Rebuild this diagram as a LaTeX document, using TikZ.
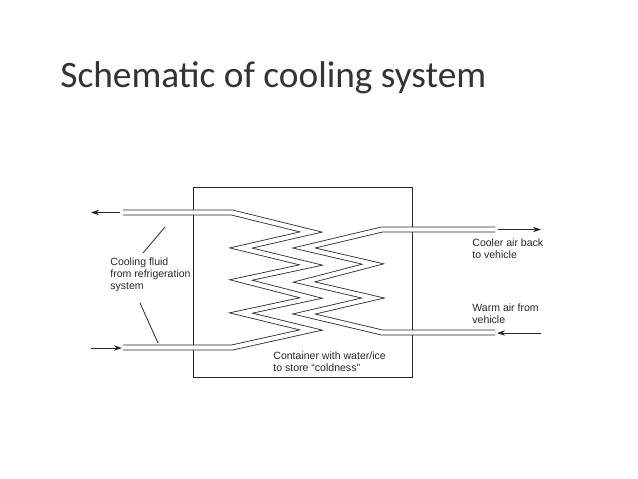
\documentclass[tikz,border=0pt]{standalone}
\usepackage{fontspec}
\setmainfont{Liberation Sans}
\newfontfamily\titlefont{Carlito}
\usetikzlibrary{arrows.meta}
\tikzset{every picture/.style={line width=0.6pt}}
\tikzset{
  pipe/.style={draw=black!85, double=white, double distance=3.2pt, line width=0.6pt, line join=miter},
  flow/.style={draw=black!85, -{Stealth[length=6pt,width=4pt]}},
  lbl/.style={anchor=north west, inner sep=0.75pt, font=\fontsize{7.9}{9.3}\selectfont, align=left, text=black!85}
}
\begin{document}
\begin{tikzpicture}[x=0.75pt,y=0.75pt,yscale=-1,xscale=1]
\useasboundingbox (0,0) rectangle (638,478);

% Title
\node [anchor=base west, inner sep=0pt, font=\titlefont\fontsize{28}{32}\selectfont, text=black!80] (title) at (60,87) {Schematic of cooling system};

% Container
\draw [black!85] (193,187) rectangle (412,377);

% Cooling fluid coil
\draw [pipe] (123,212.5) -- (232,212.5) -- (311,232) -- (241,248) -- (311,265) -- (241,280) -- (311,298) -- (241,313) -- (311,330) -- (232,347.5) -- (123,347.5);
% Air coil
\draw [pipe] (495,229.5) -- (382,229.5) -- (304,248) -- (373,264) -- (304,282) -- (373,298) -- (304,314) -- (382,332.5) -- (495,332.5);

% Flow ends
\coordinate (fOut) at (120,212.5);
\coordinate (fOutEnd) at (91,212.5);
\coordinate (fIn) at (91,348);
\coordinate (fInEnd) at (122,348);
\coordinate (aOut) at (498,229.5);
\coordinate (aOutEnd) at (541,229.5);
\coordinate (aIn) at (541,333);
\coordinate (aInEnd) at (497,333);
\draw [flow] (fOut) -- (fOutEnd);
\draw [flow] (fIn) -- (fInEnd);
\draw [flow] (aOut) -- (aOutEnd);
\draw [flow] (aIn) -- (aInEnd);

% Text Node
\node [lbl] (fluid) at (109,256) {Cooling fluid\\from refrigeration\\system};
% Text Node
\node [lbl] (cooler) at (471,237) {Cooler air back\\to vehicle};
% Text Node
\node [lbl] (warm) at (471,302) {Warm air from\\vehicle};
% Text Node
\node [lbl] (container) at (272,350) {Container with water/ice\\to store ``coldness''};

% Callout lines
\coordinate (cA) at (165,227);
\coordinate (cB) at (158,343);
\draw [black!85] (cA) -- (143,253);
\draw [black!85] (140,303) -- (cB);

\end{tikzpicture}
\end{document}
